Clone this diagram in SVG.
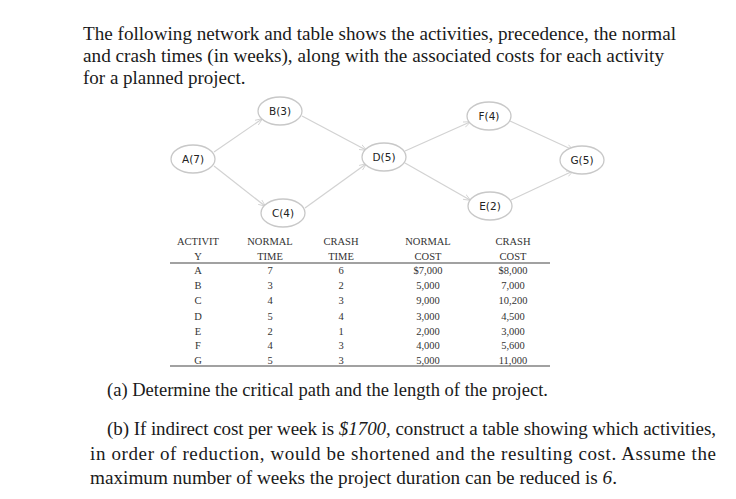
<svg xmlns="http://www.w3.org/2000/svg" width="736" height="499" viewBox="0 0 736 499">
<style>
.t{font-family:"Liberation Serif",serif;font-size:19px;fill:#1a1a1a}
.n ellipse{fill:#fff;stroke:#c8c8c8;stroke-width:1.3}
.n text{font-family:"DejaVu Sans",sans-serif;font-size:10.5px;fill:#222;text-anchor:middle}
.c line{stroke:#d2d2d2;stroke-width:1.2;marker-end:url(#a)}
.tb{font-family:"Liberation Serif",serif;font-size:10.5px;fill:#333;text-anchor:middle}
</style>
<defs><marker id="a" viewBox="0 0 10 10" refX="9" refY="5" markerWidth="6" markerHeight="6" orient="auto"><path d="M0,1 L10,5 L0,9" fill="none" stroke="#c8c8c8"/></marker></defs>
<rect width="736" height="499" fill="#fff"/>
<text class="t" x="83" y="40" textLength="593" lengthAdjust="spacingAndGlyphs">The following network and table shows the activities, precedence, the normal</text>
<text class="t" x="83" y="62" textLength="581" lengthAdjust="spacingAndGlyphs">and crash times (in weeks), along with the associated costs for each activity</text>
<text class="t" x="83" y="84">for a planned project.</text>
<g class="c">
<line x1="214" y1="152" x2="262" y2="119"/>
<line x1="214" y1="166" x2="265" y2="206"/>
<line x1="302" y1="116" x2="366" y2="150"/>
<line x1="305" y1="208" x2="366" y2="164"/>
<line x1="405" y1="151" x2="470" y2="122"/>
<line x1="405" y1="163" x2="470" y2="200"/>
<line x1="510" y1="121" x2="573" y2="150"/>
<line x1="511" y1="200" x2="573" y2="171"/>
</g>
<g id="A" class="n"><ellipse cx="193" cy="159" rx="22" ry="14"/><text x="193" y="163">A(7)</text></g>
<g id="B" class="n"><ellipse cx="280" cy="111" rx="22" ry="14"/><text x="280" y="115">B(3)</text></g>
<g id="C" class="n"><ellipse cx="283" cy="213" rx="22" ry="14"/><text x="283" y="217">C(4)</text></g>
<g id="D" class="n"><ellipse cx="384" cy="157" rx="22" ry="14"/><text x="384" y="161">D(5)</text></g>
<g id="F" class="n"><ellipse cx="489" cy="116" rx="22" ry="14"/><text x="489" y="120">F(4)</text></g>
<g id="E" class="n"><ellipse cx="490" cy="206" rx="22" ry="14"/><text x="490" y="210">E(2)</text></g>
<g id="G" class="n"><ellipse cx="582" cy="160" rx="22" ry="14"/><text x="582" y="164">G(5)</text></g>
<g class="tb">
<text x="198" y="245">ACTIVIT</text><text x="198" y="260">Y</text>
<text x="270" y="245">NORMAL</text><text x="270" y="260">TIME</text>
<text x="341" y="245">CRASH</text><text x="341" y="260">TIME</text>
<text x="428" y="245">NORMAL</text><text x="428" y="260">COST</text>
<text x="513" y="245">CRASH</text><text x="513" y="260">COST</text>
</g>
<line x1="170" y1="263" x2="550" y2="263" stroke="#444" stroke-width="1.2"/>
<line x1="170" y1="366" x2="550" y2="366" stroke="#444" stroke-width="1.2"/>
<g class="tb">
<text x="198" y="274">A</text><text x="270" y="274">7</text><text x="341" y="274">6</text><text x="428" y="274">$7,000</text><text x="513" y="274">$8,000</text>
<text x="198" y="289">B</text><text x="270" y="289">3</text><text x="341" y="289">2</text><text x="428" y="289">5,000</text><text x="513" y="289">7,000</text>
<text x="198" y="304">C</text><text x="270" y="304">4</text><text x="341" y="304">3</text><text x="428" y="304">9,000</text><text x="513" y="304">10,200</text>
<text x="198" y="320">D</text><text x="270" y="320">5</text><text x="341" y="320">4</text><text x="428" y="320">3,000</text><text x="513" y="320">4,500</text>
<text x="198" y="335">E</text><text x="270" y="335">2</text><text x="341" y="335">1</text><text x="428" y="335">2,000</text><text x="513" y="335">3,000</text>
<text x="198" y="349">F</text><text x="270" y="349">4</text><text x="341" y="349">3</text><text x="428" y="349">4,000</text><text x="513" y="349">5,600</text>
<text x="198" y="364">G</text><text x="270" y="364">5</text><text x="341" y="364">3</text><text x="428" y="364">5,000</text><text x="513" y="364">11,000</text>
</g>
<text class="t" x="107" y="396" textLength="441" lengthAdjust="spacingAndGlyphs">(a) Determine the critical path and the length of the project.</text>
<text class="t" x="107" y="435" textLength="609" lengthAdjust="spacing">(b) If indirect cost per week is <tspan font-style="italic">$1700</tspan>, construct a table showing which activities,</text>
<text class="t" x="90" y="460" textLength="626" lengthAdjust="spacing">in order of reduction, would be shortened and the resulting cost. Assume the</text>
<text class="t" x="90" y="484" textLength="527" lengthAdjust="spacingAndGlyphs">maximum number of weeks the project duration can be reduced is <tspan font-style="italic">6</tspan>.</text>
</svg>
